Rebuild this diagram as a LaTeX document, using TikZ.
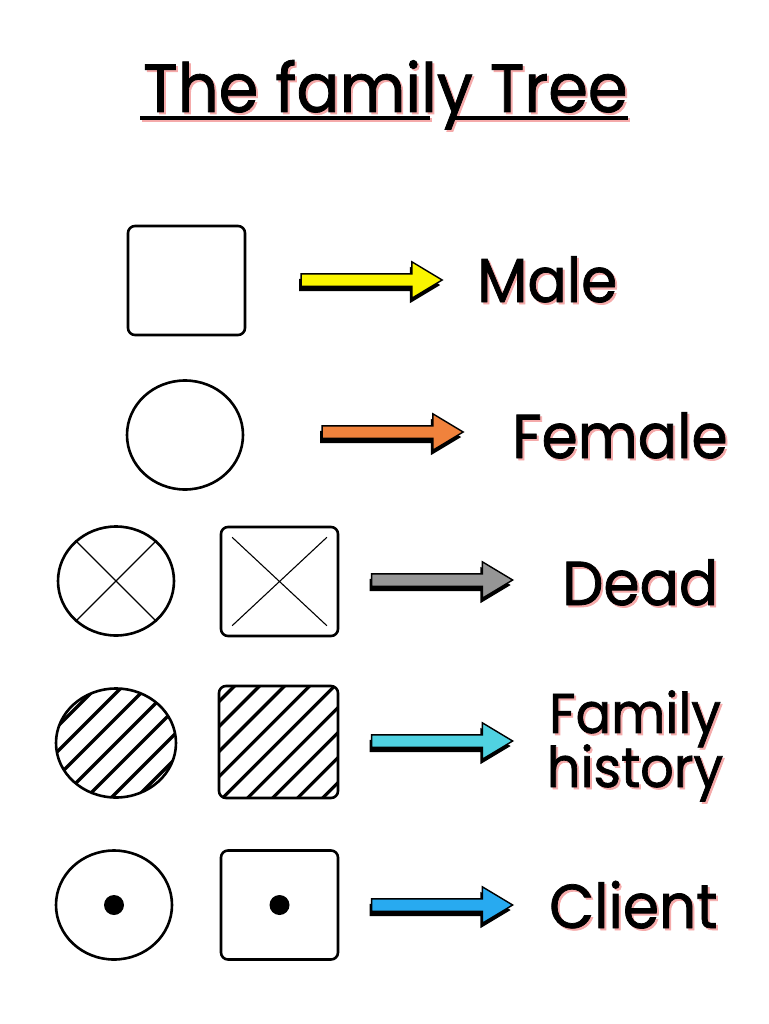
\documentclass[tikz,border=0pt]{standalone}
\usepackage{fontspec}
\setmainfont{Poppins}[FakeBold=1.2, FakeStretch=0.94]
\usetikzlibrary{shapes.geometric,shapes.arrows,shadows}
\definecolor{Shadow}{RGB}{245,170,170}
\definecolor{Yellow}{RGB}{250,245,0}
\definecolor{Orange}{RGB}{240,130,60}
\definecolor{Grey}{RGB}{150,150,150}
\definecolor{Cyan}{RGB}{80,210,225}
\definecolor{Blue}{RGB}{40,170,240}
\newcommand\shtext[1]{\makebox[0pt][l]{\kern2pt\raisebox{-2pt}{\color{Shadow}#1}}#1}

\begin{document}
\begin{tikzpicture}[
  x=1pt, y=-1pt,
  every node/.style={inner sep=0pt},
  symbol/.style={draw, line width=2.6pt, fill=white},
  boxsym/.style={symbol, rectangle, rounded corners=7pt,
    minimum width=117pt, minimum height=109pt},
  roundsym/.style={symbol, ellipse, minimum width=116pt, minimum height=109pt},
  crossline/.style={line width=1.1pt},
  hatched/.style={path picture={
      \foreach \k in {-200,-175,...,200}
        \draw[line width=3.2pt] ([xshift=\k pt]path picture bounding box.center)
          ++(-100,100) -- ++(200,-200);}},
  fatarrow/.style={single arrow, draw, line width=1.4pt, fill=#1,
    inner xsep=0pt, inner ysep=5.5pt, minimum height=141pt,
    single arrow head extend=12pt, single arrow tip angle=62,
    drop shadow={shadow xshift=-2pt, shadow yshift=-5pt, opacity=1, fill=black}},
  word/.style={anchor=base west, font=\fontsize{62}{50}\selectfont}
  ]
\useasboundingbox (0,0) rectangle (768,1024);

% title
\node[anchor=base west, font=\fontsize{68}{68}\selectfont] (title) at (143,112)
  {\shtext{The family Tree}};
\foreach \a/\b in {140/430, 455/628}{
  \draw[Shadow, line width=4pt] (\a+2,120) -- (\b+2,120);
  \draw[line width=4pt] (\a,118) -- (\b,118);}

% male
\node[boxsym] (male) at (186.5,280.5) {};
\node[fatarrow=Yellow] (amale) at (366.5,280) {};
\node[word] (tmale) at (477,302) {\shtext{Male}};

% female
\node[roundsym] (female) at (185,435) {};
\node[fatarrow=Orange] (afemale) at (387.5,432) {};
\node[word] (tfemale) at (512,458) {\shtext{Female}};

% dead
\node[roundsym] (deadf) at (116,581) {};
\node[boxsym] (deadm) at (279.5,581.5) {};
\draw[crossline] (deadf.45) -- (deadf.225);
\draw[crossline] (deadf.135) -- (deadf.315);
\draw[crossline, shorten <=17pt, shorten >=17pt] (deadm.north west) -- (deadm.south east);
\draw[crossline, shorten <=17pt, shorten >=17pt] (deadm.north east) -- (deadm.south west);
\node[fatarrow=Grey] (adead) at (437,580) {};
\node[word] (tdead) at (562,605) {\shtext{Dead}};

% family history
\node[roundsym, hatched, minimum width=120pt] (histf) at (116,743) {};
\node[boxsym, hatched, minimum width=119pt, minimum height=112pt] (histm) at (278.5,742) {};
\node[fatarrow=Cyan] (ahist) at (437,741) {};
\node[anchor=base, align=center, font=\fontsize{56}{50}\selectfont] (thist) at (635,787)
  {\shtext{Family}\\[-6pt]\shtext{history}};

% client
\node[roundsym] (clientf) at (114,905) {};
\node[boxsym] (clientm) at (279.5,905) {};
\fill (clientf.center) circle (10) (clientm.center) circle (10);
\node[fatarrow=Blue] (aclient) at (437,905) {};
\node[word] (tclient) at (549,928) {\shtext{Client}};
\end{tikzpicture}
\end{document}
